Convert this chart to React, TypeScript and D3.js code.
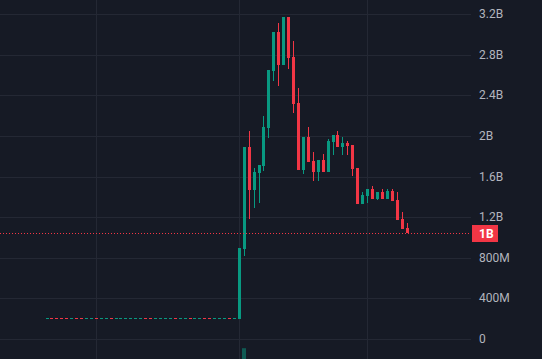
import { useMemo } from 'react'
import * as d3 from 'd3'

const WIDTH = 542
const HEIGHT = 359
const PLOT_RIGHT = 471

// flat pre-listing candles [open, high, low, close] (billions)
const FLAT_CANDLES: [number, number, number, number][] = [
  [0.203, 0.204, 0.203, 0.204], [0.204, 0.204, 0.203, 0.203], [0.204, 0.204, 0.203, 0.203],
  [0.204, 0.204, 0.203, 0.203], [0.204, 0.204, 0.203, 0.203], [0.203, 0.204, 0.203, 0.204],
  [0.204, 0.204, 0.203, 0.203], [0.204, 0.204, 0.203, 0.203], [0.203, 0.204, 0.203, 0.204],
  [0.203, 0.204, 0.203, 0.204], [0.204, 0.204, 0.203, 0.203], [0.203, 0.204, 0.203, 0.204],
  [0.203, 0.204, 0.203, 0.204], [0.204, 0.204, 0.203, 0.203], [0.203, 0.204, 0.203, 0.204],
  [0.203, 0.204, 0.203, 0.204], [0.203, 0.204, 0.203, 0.204], [0.203, 0.204, 0.203, 0.204],
  [0.203, 0.204, 0.203, 0.204], [0.203, 0.204, 0.203, 0.204], [0.204, 0.204, 0.203, 0.203],
  [0.204, 0.204, 0.203, 0.203], [0.203, 0.204, 0.203, 0.204], [0.203, 0.204, 0.203, 0.204],
  [0.203, 0.204, 0.203, 0.204], [0.203, 0.204, 0.203, 0.204], [0.204, 0.204, 0.203, 0.203],
  [0.203, 0.204, 0.203, 0.204], [0.203, 0.204, 0.203, 0.204], [0.204, 0.204, 0.203, 0.203],
  [0.203, 0.204, 0.203, 0.204], [0.203, 0.204, 0.203, 0.204], [0.204, 0.204, 0.203, 0.203],
  [0.204, 0.204, 0.203, 0.203], [0.203, 0.204, 0.203, 0.204], [0.203, 0.204, 0.203, 0.204],
  [0.203, 0.204, 0.203, 0.204], [0.204, 0.204, 0.203, 0.203], [0.203, 0.204, 0.203, 0.204],
]

// trading candles after the jump [open, high, low, close] (billions)
const MAIN_CANDLES: [number, number, number, number][] = [
  [0.197, 0.896, 0.197, 0.896],
  [0.886, 1.890, 0.817, 1.890],
  [1.890, 2.048, 1.182, 1.467],
  [1.467, 1.684, 1.290, 1.644],
  [1.634, 1.713, 1.339, 1.713],
  [1.703, 2.196, 1.654, 2.087],
  [2.078, 2.649, 1.979, 2.649],
  [2.639, 3.023, 2.540, 3.023],
  [3.023, 3.111, 2.491, 2.698],
  [2.698, 3.171, 2.698, 3.171],
  [3.171, 3.171, 2.659, 2.767],
  [2.777, 2.934, 2.225, 2.314],
  [2.324, 2.471, 1.664, 1.664],
  [1.664, 1.989, 1.625, 1.989],
  [1.989, 2.087, 1.743, 1.743],
  [1.753, 1.841, 1.556, 1.644],
  [1.644, 1.763, 1.556, 1.763],
  [1.763, 1.822, 1.644, 1.644],
  [1.644, 1.969, 1.644, 1.950],
  [1.940, 2.009, 1.812, 2.009],
  [2.009, 2.048, 1.890, 1.890],
  [1.890, 1.989, 1.812, 1.930],
  [1.930, 1.950, 1.812, 1.900],
  [1.910, 1.910, 1.605, 1.674],
  [1.684, 1.684, 1.329, 1.329],
  [1.329, 1.447, 1.329, 1.418],
  [1.408, 1.477, 1.339, 1.477],
  [1.477, 1.506, 1.378, 1.378],
  [1.378, 1.447, 1.369, 1.447],
  [1.447, 1.477, 1.378, 1.378],
  [1.378, 1.477, 1.378, 1.457],
  [1.457, 1.477, 1.359, 1.359],
  [1.369, 1.447, 1.172, 1.172],
  [1.182, 1.250, 1.083, 1.083],
  [1.093, 1.142, 1.044, 1.044],
]

// volume of the trading candles (only the listing spike reaches into view)
const MAIN_VOLUME = [30, 53, 28, 18, 12, 20, 22, 20, 24, 18, 16, 20, 22, 14, 10, 8, 7, 6, 9, 8, 6, 5, 5, 8, 12, 6, 5, 4, 4, 4, 4, 5, 8, 6, 5]

const PRICE_TICKS = [0, 0.4, 0.8, 1.2, 1.6, 2, 2.4, 2.8, 3.2]
const TIME_GRID_BARS = [10, 39, 65]

const UP = '#089981'
const DOWN = '#f23645'
const BG = '#161a25'
const GRID = '#242834'
const TEXT = '#b2b5be'

const fmt = (v: number) => (v >= 1 ? `${+v.toFixed(1)}B` : v === 0 ? '0' : `${Math.round(v * 1000)}M`)

export default function App() {
  const candles = useMemo(() => [...FLAT_CANDLES, ...MAIN_CANDLES], [])
  const volumes = useMemo(() => [...FLAT_CANDLES.map(() => 0), ...MAIN_VOLUME], [])

  const x = d3.scaleLinear().domain([0, candles.length - 1]).range([46.5, 406.5])
  const y = d3.scaleLinear().domain([0, 3.2]).range([339, 14])
  const yVol = d3.scaleLinear().domain([0, 100]).range([380, 320])

  const last = candles[candles.length - 1]
  const lastY = Math.round(y(last[3]))

  return (
    <svg
      width={WIDTH}
      height={HEIGHT}
      style={{ position: 'fixed', left: 0, top: 0, display: 'block', background: BG }}
      fontFamily="Roboto, 'Noto Sans', sans-serif"
    >
      <rect width={WIDTH} height={HEIGHT} fill={BG} />

      {/* grid */}
      {PRICE_TICKS.map(t => (
        <line key={`h-${t}`} x1={0} x2={PLOT_RIGHT} y1={Math.round(y(t)) + 0.5} y2={Math.round(y(t)) + 0.5} stroke={GRID} />
      ))}
      {TIME_GRID_BARS.map(b => (
        <line key={`v-${b}`} x1={Math.round(x(b)) + 0.5} x2={Math.round(x(b)) + 0.5} y1={0} y2={HEIGHT} stroke={GRID} />
      ))}

      {/* volume */}
      {volumes.map((v, i) => {
        if (!v) return null
        const cx = Math.round(x(i))
        const top = yVol(v)
        return (
          <rect key={`vol-${i}`} x={cx - 2} y={top} width={4} height={yVol(0) - top} fill={UP} opacity={0.5} />
        )
      })}

      {/* candles */}
      {candles.map(([o, h, l, c], i) => {
        const cx = Math.round(x(i))
        const color = c >= o ? UP : DOWN
        const bodyTop = Math.round(y(Math.max(o, c)))
        const bodyBot = Math.round(y(Math.min(o, c)))
        const wickTop = Math.round(y(h))
        const wickBot = Math.round(y(l))
        return (
          <g key={`c-${i}`} fill={color}>
            {wickBot - wickTop > 0 && <rect x={cx} y={wickTop} width={1} height={wickBot - wickTop} />}
            <rect x={cx - 1} y={bodyTop} width={3} height={Math.max(1, bodyBot - bodyTop)} />
          </g>
        )
      })}

      {/* last price line */}
      <line x1={0} x2={PLOT_RIGHT} y1={lastY + 0.5} y2={lastY + 0.5} stroke={DOWN} strokeDasharray="1,2" />

      {/* price axis */}
      {PRICE_TICKS.map(t => (
        <text key={`l-${t}`} x={479} y={y(t)} dominantBaseline="central" fontSize={12} fill={TEXT}>
          {fmt(t)}
        </text>
      ))}
      <rect x={472} y={lastY - 8} width={26} height={17} fill={DOWN} />
      <text x={479} y={lastY + 0.5} dominantBaseline="central" fontSize={12} fontWeight="bold" fill="#ffffff">
        {fmt(last[3])}
      </text>
    </svg>
  )
}
